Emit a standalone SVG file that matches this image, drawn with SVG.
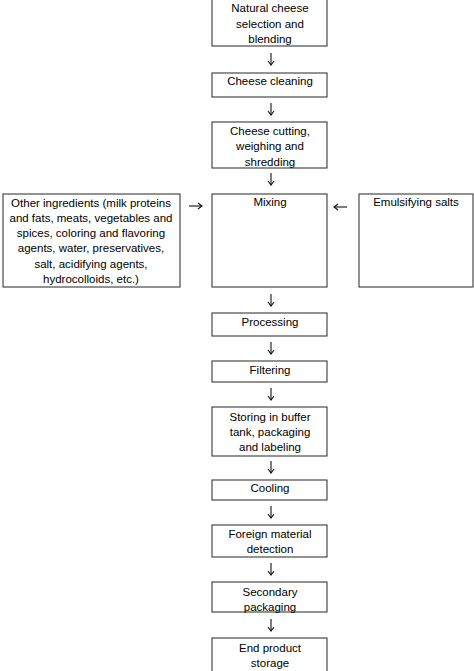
<svg xmlns="http://www.w3.org/2000/svg" width="474" height="671" viewBox="0 0 474 671">
<defs>
<style>
.box{fill:#fff;stroke:#3a3a3a;stroke-width:1.1}
text{font-family:"Liberation Sans",Arial,sans-serif;font-size:11.5px;fill:#000;text-anchor:middle}
.c{stroke:#111;stroke-width:1.1;fill:none}
</style>
<marker id="ah" markerWidth="8" markerHeight="8" refX="6" refY="4" orient="auto" markerUnits="userSpaceOnUse">
<path d="M2,1 L6,4 L2,7" fill="none" stroke="#111" stroke-width="1.1"/>
</marker>
</defs>
<rect width="474" height="671" fill="#fff"/>
<g id="n1"><rect class="box" x="212" y="-1" width="115" height="47"/>
<text x="270" y="12">Natural cheese</text><text x="270" y="27.5">selection and</text><text x="270" y="43">blending</text></g>
<g id="n2"><rect class="box" x="212" y="73" width="115" height="24"/><text x="270" y="85">Cheese cleaning</text></g>
<g id="n3"><rect class="box" x="212" y="122" width="115" height="46"/>
<text x="270" y="134.5">Cheese cutting,</text><text x="270" y="150">weighing and</text><text x="270" y="165.5">shredding</text></g>
<g id="n4"><rect class="box" x="212" y="194" width="115" height="93"/><text x="270" y="206">Mixing</text></g>
<g id="n5"><rect class="box" x="3" y="194" width="177" height="93"/>
<text x="91" y="207">Other ingredients (milk proteins</text>
<text x="91" y="222">and fats, meats, vegetables and</text>
<text x="91" y="237">spices, coloring and flavoring</text>
<text x="91" y="252">agents, water, preservatives,</text>
<text x="91" y="267.5">salt, acidifying agents,</text>
<text x="91" y="283">hydrocolloids, etc.)</text></g>
<g id="n6"><rect class="box" x="359" y="194" width="114" height="93"/><text x="416" y="206">Emulsifying salts</text></g>
<g id="n7"><rect class="box" x="212" y="313" width="115" height="23"/><text x="270" y="325.5">Processing</text></g>
<g id="n8"><rect class="box" x="212" y="361" width="115" height="21"/><text x="270" y="374">Filtering</text></g>
<g id="n9"><rect class="box" x="212" y="407" width="115" height="49"/>
<text x="270" y="420.5">Storing in buffer</text><text x="270" y="435.5">tank, packaging</text><text x="270" y="450.5">and labeling</text></g>
<g id="n10"><rect class="box" x="212" y="480" width="115" height="20"/><text x="270" y="492">Cooling</text></g>
<g id="n11"><rect class="box" x="212" y="525" width="115" height="32"/>
<text x="270" y="538">Foreign material</text><text x="270" y="553">detection</text></g>
<g id="n12"><rect class="box" x="212" y="582" width="115" height="30"/>
<text x="270" y="596">Secondary</text><text x="270" y="611">packaging</text></g>
<g id="n13"><rect class="box" x="212" y="638" width="115" height="40"/>
<text x="270" y="652">End product</text><text x="270" y="667">storage</text></g>
<g id="connectors">
<path class="c" marker-end="url(#ah)" d="M271,53 V65"/>
<path class="c" marker-end="url(#ah)" d="M271,103 V115"/>
<path class="c" marker-end="url(#ah)" d="M271,173 V185"/>
<path class="c" marker-end="url(#ah)" d="M271,294 V306"/>
<path class="c" marker-end="url(#ah)" d="M271,342 V354"/>
<path class="c" marker-end="url(#ah)" d="M271,388 V400"/>
<path class="c" marker-end="url(#ah)" d="M271,461 V473"/>
<path class="c" marker-end="url(#ah)" d="M271,506 V518"/>
<path class="c" marker-end="url(#ah)" d="M271,563 V575"/>
<path class="c" marker-end="url(#ah)" d="M271,619 V631"/>
<path class="c" marker-end="url(#ah)" d="M189,206 H202"/>
<path class="c" marker-end="url(#ah)" d="M347,207 H334"/>
</g>
</svg>
